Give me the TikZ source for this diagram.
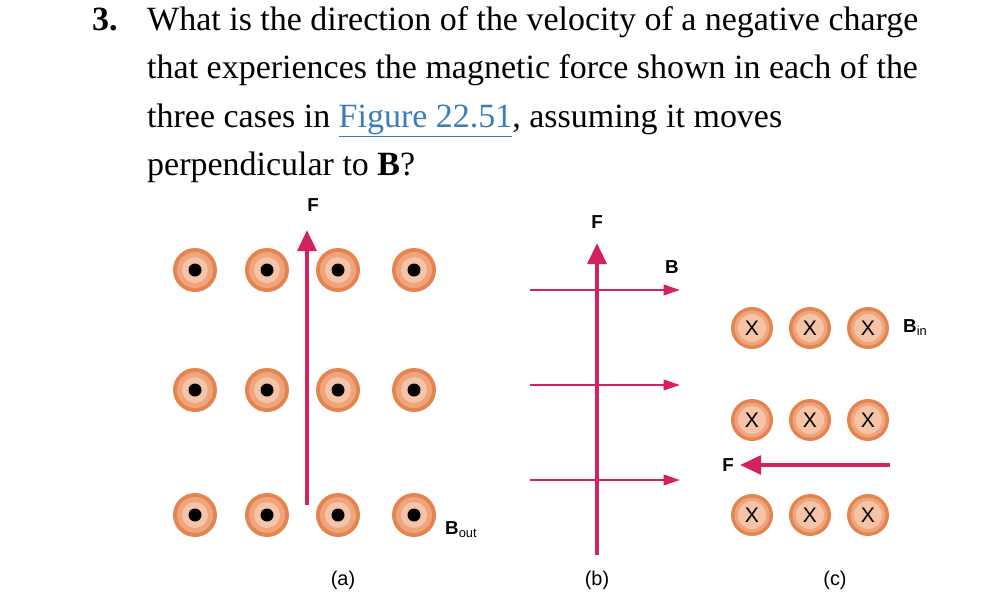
\documentclass[tikz,border=0pt]{standalone}
\usepackage{fontspec}
\setmainfont{Liberation Serif}
\newfontfamily\lab{Liberation Sans}
\usetikzlibrary{arrows.meta}
\definecolor{ring}{HTML}{E48550}
\definecolor{mid}{HTML}{EFA47C}
\definecolor{core}{HTML}{F5C3A6}
\definecolor{vec}{HTML}{D4235A}
\definecolor{lnk}{HTML}{3A7EB8}
\tikzset{
 q/.style={anchor=base west,inner sep=0pt,font=\fontsize{29}{34}\selectfont},
 lb/.style={font=\lab\bfseries\fontsize{16}{18}\selectfont,inner sep=0pt},
 capt/.style={font=\lab\fontsize{17}{19}\selectfont,inner sep=0pt},
 vecl/.style={draw=vec,line width=3.6pt,-{Triangle[length=18pt,width=16pt]}},
 bl/.style={draw=vec,line width=2pt,-{Triangle[length=14pt,width=9pt]}},
}
\newcommand{\outc}[2]{\fill[ring] (#1,#2) circle (22);\fill[mid] (#1,#2) circle (18);\fill[core] (#1,#2) circle (13);\fill[black] (#1,#2) circle (6.5);}
\newcommand{\inc}[2]{\fill[ring] (#1,#2) circle (21);\fill[mid] (#1,#2) circle (17.5);\fill[core] (#1,#2) circle (14);\node[font=\lab\fontsize{18}{18}\selectfont,inner sep=0pt] at (#1,#2) {X};}
\begin{document}
\begin{tikzpicture}[x=0.03cm,y=-0.03cm]
\useasboundingbox (0,0) rectangle (996,612);
\node[q] (n3) at (92,30) {\textbf{3.}};
\node[q] (l1) at (147,30) {What is the direction of the velocity of a negative charge};
\node[q] (l2) at (147,78) {that experiences the magnetic force shown in each of the};
\node[q] (l3) at (147,127) {three cases in \textcolor{lnk}{\underline{Figure 22.51}}, assuming it moves};
\node[q] (l4) at (147,175) {perpendicular to $\mathbf{B}$?};
% (a)
\foreach \y in {270,390,515}{\foreach \x in {195,267,338,414}{\outc{\x}{\y}}}
\coordinate (a0) at (307,505); \coordinate (a1) at (307,230);
\draw[vecl] (a0) -- (a1);
\node[lb] (fa) at (313,205) {F};
\node[lb,anchor=west] (bo) at (445,530) {B\textsubscript{\mdseries\fontsize{11}{11}\selectfont out}};
\node[capt] (ca) at (343,580) {(a)};
% (b)
\coordinate (b0) at (597,555); \coordinate (b1) at (597,243);
\draw[vecl] (b0) -- (b1);
\node[lb] (fb) at (597,222) {F};
\foreach \y [count=\i] in {290,385,480}{\coordinate (h\i) at (530,\y); \coordinate (e\i) at (680,\y); \draw[bl] (h\i) -- (e\i);}
\node[lb] (bb) at (672,267) {B};
\node[capt] (cb) at (597,580) {(b)};
% (c)
\foreach \y in {328,420,515}{\foreach \x in {752,810,868}{\inc{\x}{\y}}}
\node[lb,anchor=west] (bi) at (903,328) {B\textsubscript{\mdseries\fontsize{11}{11}\selectfont in}};
\coordinate (c0) at (890,465); \coordinate (c1) at (740,465);
\draw[vecl,line width=3pt] (c0) -- (c1);
\node[lb] (fc) at (728,465) {F};
\node[capt] (cc) at (835,580) {(c)};
\end{tikzpicture}
\end{document}
